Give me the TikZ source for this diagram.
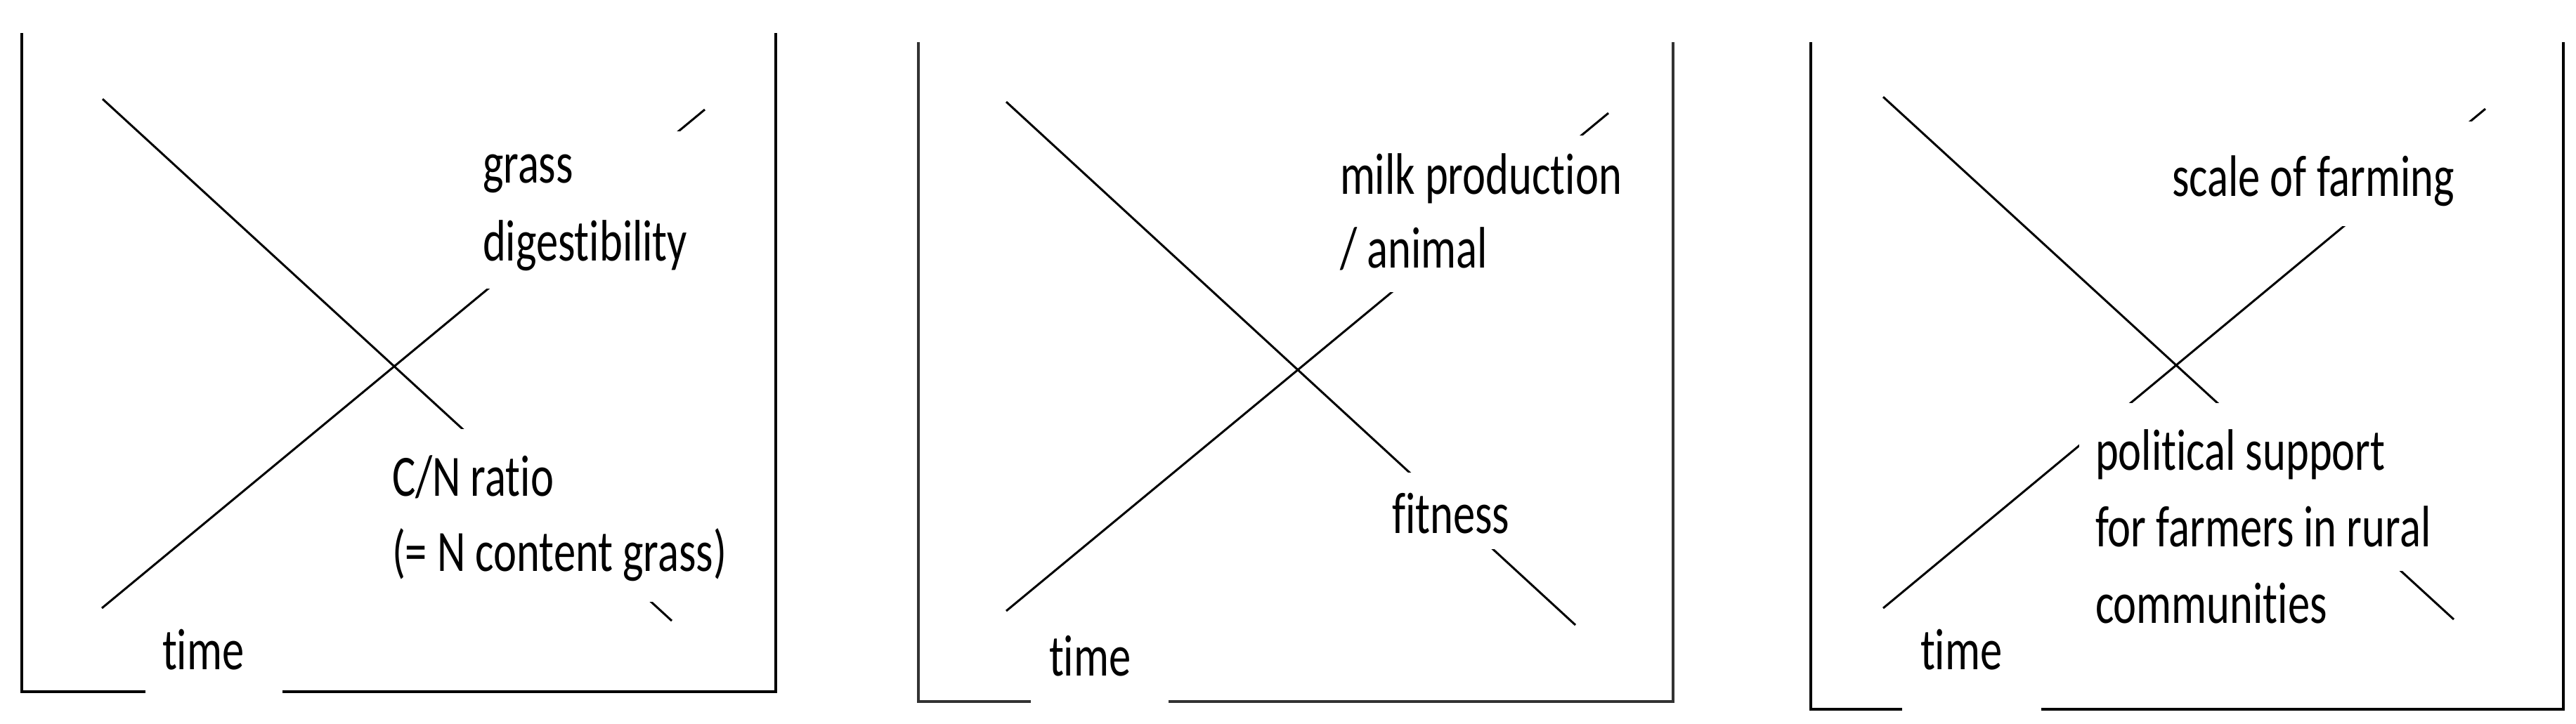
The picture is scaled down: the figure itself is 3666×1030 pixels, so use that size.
\documentclass[tikz,border=0pt]{standalone}
\usepackage{fontspec}
\setmainfont{Carlito}[FakeStretch=0.75, Ligatures={NoCommon}]
\begin{document}
\begin{tikzpicture}[x=0.01cm,y=-0.01cm,
  frame/.style={line width=0.045cm, line cap=rect},
  curve/.style={line width=0.03cm},
  mask/.style={fill=white, draw=none},
  lbl/.style={anchor=base west, inner sep=0pt, outer sep=0pt, font=\fontsize{23.7}{30}\selectfont}]
\useasboundingbox (0,0) rectangle (3666,1030);

% ---------- panel 1 ----------
\coordinate (f1a) at (31,49);
\coordinate (f1b) at (31,985);
\coordinate (f1c) at (1104,985);
\coordinate (f1d) at (1104,49);
\draw[frame] (f1a) -- (f1b) -- (f1c) -- (f1d);
\coordinate (d1s) at (146,141);
\coordinate (d1e) at (956,884);
\coordinate (a1s) at (145,866);
\coordinate (a1e) at (1003,156);
\draw[curve] (d1s) -- (d1e);
\draw[curve] (a1s) -- (a1e);

% ---------- panel 2 ----------
\coordinate (f2a) at (1307,62);
\coordinate (f2b) at (1307,999);
\coordinate (f2c) at (2381,999);
\coordinate (f2d) at (2381,62);
\draw[frame, draw=black!80] (f2a) -- (f2b) -- (f2c) -- (f2d);
\coordinate (d2s) at (1432,145);
\coordinate (d2e) at (2242,890);
\coordinate (a2s) at (1432,870);
\coordinate (a2e) at (2289,161);
\draw[curve] (d2s) -- (d2e);
\draw[curve] (a2s) -- (a2e);

% ---------- panel 3 ----------
\coordinate (f3a) at (2577,62);
\coordinate (f3b) at (2577,1010);
\coordinate (f3c) at (3648,1010);
\coordinate (f3d) at (3648,62);
\draw[frame] (f3a) -- (f3b) -- (f3c) -- (f3d);
\coordinate (d3s) at (2680,138);
\coordinate (d3e) at (3492,882);
\coordinate (a3s) at (2680,866);
\coordinate (a3e) at (3537,155);
\draw[curve] (d3s) -- (d3e);
\draw[curve] (a3s) -- (a3e);

% ---------- white text-box fills ----------
\fill[mask] (670,187) rectangle (1000,411);
\fill[mask] (540,611) rectangle (1045,857);
\fill[mask] (207,890) rectangle (402,1000);
\fill[mask] (1890,193) rectangle (2320,416);
\fill[mask] (1965,673) rectangle (2160,782);
\fill[mask] (1467,895) rectangle (1663,1015);
\fill[mask] (3075,173) rectangle (3520,322);
\fill[mask] (2959,574) rectangle (3470,813);
\fill[mask] (2707,895) rectangle (2905,1025);

% ---------- labels ----------
\node[lbl] (gd1) at (687,260) {grass};
\node[lbl] (gd2) at (687,371) {digestibility};
\node[lbl] (cn1) at (558,706) {C/N ratio};
\node[lbl] (cn2) at (558,813) {(= N content grass)};
\node[lbl] (time1) at (231,953) {time};

\node[lbl] (mp1) at (1907,276) {milk production};
\node[lbl] (mp2) at (1907,381) {/ animal};
\node[lbl] (fit) at (1981,759) {fitness};
\node[lbl] (time2) at (1493,962) {time};

\node[lbl] (sf) at (3091,279) {scale of farming};
\node[lbl] (ps1) at (2982,669) {political support};
\node[lbl] (ps2) at (2982,778) {for farmers in rural};
\node[lbl] (ps3) at (2982,887) {communities};
\node[lbl] (time3) at (2733,953) {time};
\end{tikzpicture}
\end{document}
